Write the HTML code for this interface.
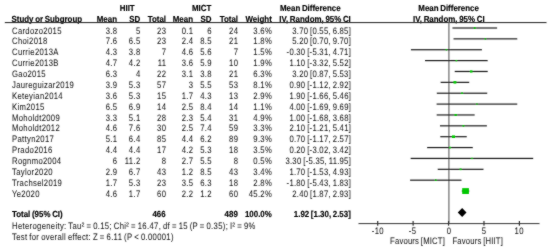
<!DOCTYPE html>
<html><head><meta charset="utf-8"><title>Forest plot</title><style>
html,body{margin:0;padding:0;background:#fff;width:550px;height:249px;overflow:hidden}
svg{display:block;text-rendering:geometricPrecision}
text{font-family:"Liberation Sans",Arial,sans-serif;font-size:9.3px;fill:#202020;stroke:#202020;stroke-width:0.06px;letter-spacing:0.4px;word-spacing:-0.7px}
.b{font-weight:bold;fill:#000;stroke:#000;stroke-width:0.15px;font-size:8.8px;letter-spacing:0.0px;word-spacing:-0.6px}.e{text-anchor:end}.m{text-anchor:middle}
</style></head><body>
<svg width="550" height="249" viewBox="0 0 550 249">
<defs><filter id="bl" filterUnits="userSpaceOnUse" x="0" y="0" width="550" height="249"><feConvolveMatrix order="3" kernelMatrix="0.5 1 0.5 1 12 1 0.5 1 0.5" edgeMode="duplicate" preserveAlpha="false"/></filter></defs><g filter="url(#bl)">
<text class="b m" transform="translate(127.20 10.80) scale(0.9 1)">HIIT</text><text class="b m" transform="translate(201.70 10.80) scale(0.9 1)">MICT</text><text class="b" transform="translate(280.00 10.80) scale(0.9 1)">Mean Difference</text><text class="b m" transform="translate(448.60 10.80) scale(0.9 1)">Mean Difference</text><text class="b" transform="translate(11.50 21.50) scale(0.9 1)">Study or Subgroup</text><text class="b e" transform="translate(117.00 21.50) scale(0.9 1)">Mean</text><text class="b e" transform="translate(140.20 21.50) scale(0.9 1)">SD</text><text class="b e" transform="translate(166.00 21.50) scale(0.9 1)">Total</text><text class="b e" transform="translate(193.00 21.50) scale(0.9 1)">Mean</text><text class="b e" transform="translate(211.60 21.50) scale(0.9 1)">SD</text><text class="b e" transform="translate(238.00 21.50) scale(0.9 1)">Total</text><text class="b e" transform="translate(271.80 21.50) scale(0.9 1)">Weight</text><text class="b e" transform="translate(350.80 21.50) scale(0.9 1)">IV, Random, 95% CI</text><text class="b m" transform="translate(448.80 21.50) scale(0.9 1)">IV, Random, 95% CI</text>
<rect x="4.8" y="22" width="541.7" height="1.1" fill="#333"/>
<rect x="448.25" y="22.5" width="1.3" height="201.5" fill="#777"/>
<text transform="translate(12.00 33.60) scale(0.826 1.0)">Cardozo2015</text><text class="e" transform="translate(117.33 33.60) scale(0.826 1.0)">3.8</text><text class="e" transform="translate(140.53 33.60) scale(0.826 1.0)">5</text><text class="e" transform="translate(166.33 33.60) scale(0.826 1.0)">23</text><text class="e" transform="translate(193.33 33.60) scale(0.826 1.0)">0.1</text><text class="e" transform="translate(211.93 33.60) scale(0.826 1.0)">6</text><text class="e" transform="translate(238.33 33.60) scale(0.826 1.0)">24</text><text class="e" transform="translate(272.13 33.60) scale(0.826 1.0)">3.6%</text><text class="e" style="letter-spacing:0.32px" transform="translate(351.06 33.60) scale(0.826 1.0)">3.70 [0.55, 6.85]</text>
<rect x="452.45" y="27.40" width="44.64" height="1.2" fill="#1e1e1e"/><rect x="473.82" y="27.17" width="1.90" height="1.65" fill="#00c800"/>
<text transform="translate(12.00 44.47) scale(0.826 1.0)">Choi2018</text><text class="e" transform="translate(117.33 44.47) scale(0.826 1.0)">7.6</text><text class="e" transform="translate(140.53 44.47) scale(0.826 1.0)">6.5</text><text class="e" transform="translate(166.33 44.47) scale(0.826 1.0)">23</text><text class="e" transform="translate(193.33 44.47) scale(0.826 1.0)">2.4</text><text class="e" transform="translate(211.93 44.47) scale(0.826 1.0)">8.5</text><text class="e" transform="translate(238.33 44.47) scale(0.826 1.0)">21</text><text class="e" transform="translate(272.13 44.47) scale(0.826 1.0)">1.8%</text><text class="e" style="letter-spacing:0.32px" transform="translate(351.06 44.47) scale(0.826 1.0)">5.20 [0.70, 9.70]</text>
<rect x="453.51" y="38.27" width="63.76" height="1.2" fill="#1e1e1e"/><rect x="484.64" y="38.22" width="1.50" height="1.30" fill="#00c800"/>
<text transform="translate(12.00 55.34) scale(0.826 1.0)">Currie2013A</text><text class="e" transform="translate(117.33 55.34) scale(0.826 1.0)">4.3</text><text class="e" transform="translate(140.53 55.34) scale(0.826 1.0)">3.8</text><text class="e" transform="translate(166.33 55.34) scale(0.826 1.0)">7</text><text class="e" transform="translate(193.33 55.34) scale(0.826 1.0)">4.6</text><text class="e" transform="translate(211.93 55.34) scale(0.826 1.0)">5.6</text><text class="e" transform="translate(238.33 55.34) scale(0.826 1.0)">7</text><text class="e" transform="translate(272.13 55.34) scale(0.826 1.0)">1.5%</text><text class="e" style="letter-spacing:0.32px" transform="translate(351.06 55.34) scale(0.826 1.0)">-0.30 [-5.31, 4.71]</text>
<rect x="410.93" y="49.14" width="70.99" height="1.2" fill="#1e1e1e"/><rect x="445.67" y="49.09" width="1.50" height="1.30" fill="#00c800"/>
<text transform="translate(12.00 66.21) scale(0.826 1.0)">Currie2013B</text><text class="e" transform="translate(117.33 66.21) scale(0.826 1.0)">4.7</text><text class="e" transform="translate(140.53 66.21) scale(0.826 1.0)">4.2</text><text class="e" transform="translate(166.33 66.21) scale(0.826 1.0)">11</text><text class="e" transform="translate(193.33 66.21) scale(0.826 1.0)">3.6</text><text class="e" transform="translate(211.93 66.21) scale(0.826 1.0)">5.9</text><text class="e" transform="translate(238.33 66.21) scale(0.826 1.0)">10</text><text class="e" transform="translate(272.13 66.21) scale(0.826 1.0)">1.9%</text><text class="e" style="letter-spacing:0.32px" transform="translate(351.06 66.21) scale(0.826 1.0)">1.10 [-3.32, 5.52]</text>
<rect x="425.03" y="60.01" width="62.63" height="1.2" fill="#1e1e1e"/><rect x="455.59" y="59.96" width="1.50" height="1.30" fill="#00c800"/>
<text transform="translate(12.00 77.08) scale(0.826 1.0)">Gao2015</text><text class="e" transform="translate(117.33 77.08) scale(0.826 1.0)">6.3</text><text class="e" transform="translate(140.53 77.08) scale(0.826 1.0)">4</text><text class="e" transform="translate(166.33 77.08) scale(0.826 1.0)">22</text><text class="e" transform="translate(193.33 77.08) scale(0.826 1.0)">3.1</text><text class="e" transform="translate(211.93 77.08) scale(0.826 1.0)">3.8</text><text class="e" transform="translate(238.33 77.08) scale(0.826 1.0)">21</text><text class="e" transform="translate(272.13 77.08) scale(0.826 1.0)">6.3%</text><text class="e" style="letter-spacing:0.32px" transform="translate(351.06 77.08) scale(0.826 1.0)">3.20 [0.87, 5.53]</text>
<rect x="454.71" y="70.88" width="33.02" height="1.2" fill="#1e1e1e"/><rect x="469.97" y="70.39" width="2.51" height="2.18" fill="#00c800"/>
<text transform="translate(12.00 87.95) scale(0.826 1.0)">Jaureguizar2019</text><text class="e" transform="translate(117.33 87.95) scale(0.826 1.0)">3.9</text><text class="e" transform="translate(140.53 87.95) scale(0.826 1.0)">5.3</text><text class="e" transform="translate(166.33 87.95) scale(0.826 1.0)">57</text><text class="e" transform="translate(193.33 87.95) scale(0.826 1.0)">3</text><text class="e" transform="translate(211.93 87.95) scale(0.826 1.0)">5.5</text><text class="e" transform="translate(238.33 87.95) scale(0.826 1.0)">53</text><text class="e" transform="translate(272.13 87.95) scale(0.826 1.0)">8.1%</text><text class="e" style="letter-spacing:0.32px" transform="translate(351.06 87.95) scale(0.826 1.0)">0.90 [-1.12, 2.92]</text>
<rect x="440.61" y="81.75" width="28.62" height="1.2" fill="#1e1e1e"/><rect x="453.50" y="81.11" width="2.85" height="2.48" fill="#00c800"/>
<text transform="translate(12.00 98.82) scale(0.826 1.0)">Keteyian2014</text><text class="e" transform="translate(117.33 98.82) scale(0.826 1.0)">3.6</text><text class="e" transform="translate(140.53 98.82) scale(0.826 1.0)">5.3</text><text class="e" transform="translate(166.33 98.82) scale(0.826 1.0)">15</text><text class="e" transform="translate(193.33 98.82) scale(0.826 1.0)">1.7</text><text class="e" transform="translate(211.93 98.82) scale(0.826 1.0)">4.3</text><text class="e" transform="translate(238.33 98.82) scale(0.826 1.0)">13</text><text class="e" transform="translate(272.13 98.82) scale(0.826 1.0)">2.9%</text><text class="e" style="letter-spacing:0.32px" transform="translate(351.06 98.82) scale(0.826 1.0)">1.90 [-1.66, 5.46]</text>
<rect x="436.79" y="92.62" width="50.45" height="1.2" fill="#1e1e1e"/><rect x="461.16" y="92.48" width="1.70" height="1.48" fill="#00c800"/>
<text transform="translate(12.00 109.69) scale(0.826 1.0)">Kim2015</text><text class="e" transform="translate(117.33 109.69) scale(0.826 1.0)">6.5</text><text class="e" transform="translate(140.53 109.69) scale(0.826 1.0)">6.9</text><text class="e" transform="translate(166.33 109.69) scale(0.826 1.0)">14</text><text class="e" transform="translate(193.33 109.69) scale(0.826 1.0)">2.5</text><text class="e" transform="translate(211.93 109.69) scale(0.826 1.0)">8.4</text><text class="e" transform="translate(238.33 109.69) scale(0.826 1.0)">14</text><text class="e" transform="translate(272.13 109.69) scale(0.826 1.0)">1.1%</text><text class="e" style="letter-spacing:0.32px" transform="translate(351.06 109.69) scale(0.826 1.0)">4.00 [-1.69, 9.69]</text>
<rect x="436.58" y="103.49" width="80.63" height="1.2" fill="#1e1e1e"/><rect x="476.14" y="103.44" width="1.50" height="1.30" fill="#00c800"/>
<text transform="translate(12.00 120.56) scale(0.826 1.0)">Moholdt2009</text><text class="e" transform="translate(117.33 120.56) scale(0.826 1.0)">3.3</text><text class="e" transform="translate(140.53 120.56) scale(0.826 1.0)">5.1</text><text class="e" transform="translate(166.33 120.56) scale(0.826 1.0)">28</text><text class="e" transform="translate(193.33 120.56) scale(0.826 1.0)">2.3</text><text class="e" transform="translate(211.93 120.56) scale(0.826 1.0)">5.4</text><text class="e" transform="translate(238.33 120.56) scale(0.826 1.0)">31</text><text class="e" transform="translate(272.13 120.56) scale(0.826 1.0)">4.9%</text><text class="e" style="letter-spacing:0.32px" transform="translate(351.06 120.56) scale(0.826 1.0)">1.00 [-1.68, 3.68]</text>
<rect x="436.65" y="114.36" width="37.98" height="1.2" fill="#1e1e1e"/><rect x="454.53" y="114.00" width="2.21" height="1.93" fill="#00c800"/>
<text transform="translate(12.00 131.43) scale(0.826 1.0)">Moholdt2012</text><text class="e" transform="translate(117.33 131.43) scale(0.826 1.0)">4.6</text><text class="e" transform="translate(140.53 131.43) scale(0.826 1.0)">7.6</text><text class="e" transform="translate(166.33 131.43) scale(0.826 1.0)">30</text><text class="e" transform="translate(193.33 131.43) scale(0.826 1.0)">2.5</text><text class="e" transform="translate(211.93 131.43) scale(0.826 1.0)">7.4</text><text class="e" transform="translate(238.33 131.43) scale(0.826 1.0)">59</text><text class="e" transform="translate(272.13 131.43) scale(0.826 1.0)">3.3%</text><text class="e" style="letter-spacing:0.32px" transform="translate(351.06 131.43) scale(0.826 1.0)">2.10 [-1.21, 5.41]</text>
<rect x="439.98" y="125.23" width="46.90" height="1.2" fill="#1e1e1e"/><rect x="462.52" y="125.04" width="1.82" height="1.58" fill="#00c800"/>
<text transform="translate(12.00 142.30) scale(0.826 1.0)">Pattyn2017</text><text class="e" transform="translate(117.33 142.30) scale(0.826 1.0)">5.1</text><text class="e" transform="translate(140.53 142.30) scale(0.826 1.0)">6.4</text><text class="e" transform="translate(166.33 142.30) scale(0.826 1.0)">85</text><text class="e" transform="translate(193.33 142.30) scale(0.826 1.0)">4.4</text><text class="e" transform="translate(211.93 142.30) scale(0.826 1.0)">6.2</text><text class="e" transform="translate(238.33 142.30) scale(0.826 1.0)">89</text><text class="e" transform="translate(272.13 142.30) scale(0.826 1.0)">9.3%</text><text class="e" style="letter-spacing:0.32px" transform="translate(351.06 142.30) scale(0.826 1.0)">0.70 [-1.17, 2.57]</text>
<rect x="440.26" y="136.10" width="26.50" height="1.2" fill="#1e1e1e"/><rect x="451.98" y="135.37" width="3.05" height="2.65" fill="#00c800"/>
<text transform="translate(12.00 153.17) scale(0.826 1.0)">Prado2016</text><text class="e" transform="translate(117.33 153.17) scale(0.826 1.0)">4.4</text><text class="e" transform="translate(140.53 153.17) scale(0.826 1.0)">4.4</text><text class="e" transform="translate(166.33 153.17) scale(0.826 1.0)">17</text><text class="e" transform="translate(193.33 153.17) scale(0.826 1.0)">4.2</text><text class="e" transform="translate(211.93 153.17) scale(0.826 1.0)">5.3</text><text class="e" transform="translate(238.33 153.17) scale(0.826 1.0)">18</text><text class="e" transform="translate(272.13 153.17) scale(0.826 1.0)">3.5%</text><text class="e" style="letter-spacing:0.32px" transform="translate(351.06 153.17) scale(0.826 1.0)">0.20 [-3.02, 3.42]</text>
<rect x="427.15" y="146.97" width="45.63" height="1.2" fill="#1e1e1e"/><rect x="449.03" y="146.76" width="1.87" height="1.63" fill="#00c800"/>
<text transform="translate(12.00 164.04) scale(0.826 1.0)">Rognmo2004</text><text class="e" transform="translate(117.33 164.04) scale(0.826 1.0)">6</text><text class="e" transform="translate(140.53 164.04) scale(0.826 1.0)">11.2</text><text class="e" transform="translate(166.33 164.04) scale(0.826 1.0)">8</text><text class="e" transform="translate(193.33 164.04) scale(0.826 1.0)">2.7</text><text class="e" transform="translate(211.93 164.04) scale(0.826 1.0)">5.5</text><text class="e" transform="translate(238.33 164.04) scale(0.826 1.0)">8</text><text class="e" transform="translate(272.13 164.04) scale(0.826 1.0)">0.5%</text><text class="e" style="letter-spacing:0.32px" transform="translate(351.06 164.04) scale(0.826 1.0)">3.30 [-5.35, 11.95]</text>
<rect x="410.65" y="157.84" width="122.57" height="1.2" fill="#1e1e1e"/><rect x="471.18" y="157.79" width="1.50" height="1.30" fill="#00c800"/>
<text transform="translate(12.00 174.91) scale(0.826 1.0)">Taylor2020</text><text class="e" transform="translate(117.33 174.91) scale(0.826 1.0)">2.9</text><text class="e" transform="translate(140.53 174.91) scale(0.826 1.0)">6.7</text><text class="e" transform="translate(166.33 174.91) scale(0.826 1.0)">43</text><text class="e" transform="translate(193.33 174.91) scale(0.826 1.0)">1.2</text><text class="e" transform="translate(211.93 174.91) scale(0.826 1.0)">8.5</text><text class="e" transform="translate(238.33 174.91) scale(0.826 1.0)">43</text><text class="e" transform="translate(272.13 174.91) scale(0.826 1.0)">3.4%</text><text class="e" style="letter-spacing:0.32px" transform="translate(351.06 174.91) scale(0.826 1.0)">1.70 [-1.53, 4.93]</text>
<rect x="437.71" y="168.71" width="45.77" height="1.2" fill="#1e1e1e"/><rect x="459.67" y="168.51" width="1.84" height="1.60" fill="#00c800"/>
<text transform="translate(12.00 185.78) scale(0.826 1.0)">Trachsel2019</text><text class="e" transform="translate(117.33 185.78) scale(0.826 1.0)">1.7</text><text class="e" transform="translate(140.53 185.78) scale(0.826 1.0)">5.3</text><text class="e" transform="translate(166.33 185.78) scale(0.826 1.0)">23</text><text class="e" transform="translate(193.33 185.78) scale(0.826 1.0)">3.5</text><text class="e" transform="translate(211.93 185.78) scale(0.826 1.0)">6.3</text><text class="e" transform="translate(238.33 185.78) scale(0.826 1.0)">18</text><text class="e" transform="translate(272.13 185.78) scale(0.826 1.0)">2.8%</text><text class="e" style="letter-spacing:0.32px" transform="translate(351.06 185.78) scale(0.826 1.0)">-1.80 [-5.43, 1.83]</text>
<rect x="410.08" y="179.58" width="51.44" height="1.2" fill="#1e1e1e"/><rect x="434.96" y="179.45" width="1.67" height="1.46" fill="#00c800"/>
<text transform="translate(12.00 196.65) scale(0.826 1.0)">Ye2020</text><text class="e" transform="translate(117.33 196.65) scale(0.826 1.0)">4.6</text><text class="e" transform="translate(140.53 196.65) scale(0.826 1.0)">1.7</text><text class="e" transform="translate(166.33 196.65) scale(0.826 1.0)">60</text><text class="e" transform="translate(193.33 196.65) scale(0.826 1.0)">2.2</text><text class="e" transform="translate(211.93 196.65) scale(0.826 1.0)">1.2</text><text class="e" transform="translate(238.33 196.65) scale(0.826 1.0)">60</text><text class="e" transform="translate(272.13 196.65) scale(0.826 1.0)">45.2%</text><text class="e" style="letter-spacing:0.32px" transform="translate(351.06 196.65) scale(0.826 1.0)">2.40 [1.87, 2.93]</text>
<rect x="461.80" y="190.45" width="7.51" height="1.2" fill="#1e1e1e"/><rect x="462.19" y="188.13" width="6.72" height="5.85" fill="#00c800"/>
<text class="b" transform="translate(12.00 217.20) scale(0.9 1)">Total (95% CI)</text><text class="b e" transform="translate(165.60 217.20) scale(0.9 1)">466</text><text class="b e" transform="translate(237.80 217.20) scale(0.9 1)">489</text><text class="b e" transform="translate(271.80 217.20) scale(0.9 1)">100.0%</text><text class="b e" transform="translate(350.80 217.20) scale(0.9 1)">1.92 [1.30, 2.53]</text>
<text transform="translate(12.00 228.60) scale(0.826 1.0)">Heterogeneity: Tau² = 0.15; Chi² = 16.47, df = 15 (P = 0.35); I² = 9%</text>
<text transform="translate(12.00 239.60) scale(0.826 1.0)">Test for overall effect: Z = 6.11 (P &lt; 0.00001)</text>
<polygon points="457.76,212.50 462.15,208.00 466.48,212.50 462.15,217.00" fill="#000"/>
<rect x="358.5" y="223.1" width="181" height="1" fill="#333"/>
<rect x="377.10" y="221" width="1.2" height="4.7" fill="#333"/><text class="m" transform="translate(377.90 234.20) scale(0.826 1.0)">-10</text>
<rect x="412.52" y="221" width="1.2" height="4.7" fill="#333"/><text class="m" transform="translate(412.60 234.20) scale(0.826 1.0)">-5</text>
<rect x="447.95" y="221" width="1.2" height="4.7" fill="#333"/><text class="m" transform="translate(449.10 234.20) scale(0.826 1.0)">0</text>
<rect x="483.38" y="221" width="1.2" height="4.7" fill="#333"/><text class="m" transform="translate(484.10 234.20) scale(0.826 1.0)">5</text>
<rect x="518.80" y="221" width="1.2" height="4.7" fill="#333"/><text class="m" transform="translate(519.20 234.20) scale(0.826 1.0)">10</text>
<text class="e" style="letter-spacing:0.22px" transform="translate(444.98 244.00) scale(0.826 1.0)">Favours [MICT]</text><text style="letter-spacing:0.22px" transform="translate(452.40 244.00) scale(0.826 1.0)">Favours [HIIT]</text>
</g></svg>
</body></html>
